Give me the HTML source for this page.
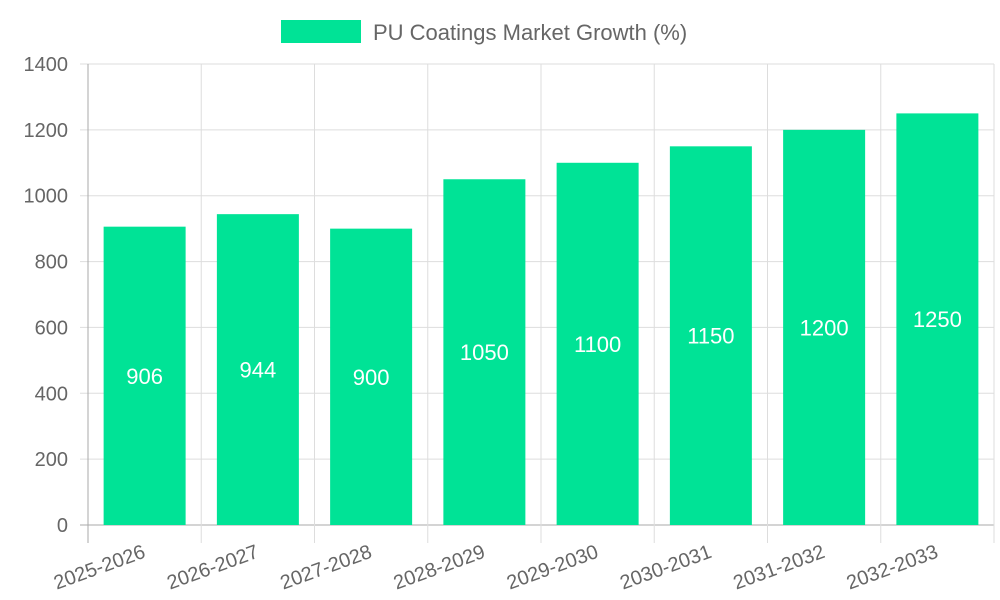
<!DOCTYPE html>
<html><head><meta charset="utf-8"><style>
html,body{margin:0;padding:0;background:#fff;}
svg{display:block;font-family:"Liberation Sans",sans-serif;}
</style></head><body>
<svg id="chart" width="1000" height="600">
<g>
<rect x="281" y="20" width="80" height="23" fill="#00e396"></rect>
<text x="373" y="40" font-size="22" fill="#666">PU Coatings Market Growth (%)</text>
</g>
<g id="grid"></g>
<g id="bars"></g>
<g id="axes"></g>
</svg>
<script>
const categories=["2025-2026","2026-2027","2027-2028","2028-2029","2029-2030","2030-2031","2031-2032","2032-2033"];
const values=[906,944,900,1050,1100,1150,1200,1250];
const yTicks=[0,200,400,600,800,1000,1200,1400];
const NS="http://www.w3.org/2000/svg";
const L=88,R=994,T=64,B=525,yMax=1400;
const n=categories.length,cw=(R-L)/n,bw=82;
const y=v=>B-(v/yMax)*(B-T);
const xc=i=>L+cw*(i+0.5);
function mk(tag,attrs,parent,txt){const e=document.createElementNS(NS,tag);for(const k in attrs)e.setAttribute(k,attrs[k]);if(txt!==undefined)e.textContent=txt;parent.appendChild(e);return e;}
const grid=document.getElementById('grid'),bars=document.getElementById('bars'),axes=document.getElementById('axes');
yTicks.forEach(t=>{
 const l=mk('line',{x1:L-8,x2:R,y1:y(t),y2:y(t),stroke:t===0?'#aaa':'#ddd','stroke-width':1},grid);
 
 
 const tx=mk('text',{x:L-20,y:y(t)+7,'text-anchor':'end','font-size':20,fill:'#666'},axes,String(t));
 
 
});
for(let i=0;i<=n;i++){
 const x=L+cw*i;
 const l=mk('line',{x1:x,x2:x,y1:T,y2:B+18,stroke:i===0?'#aaa':'#ddd','stroke-width':1},grid);
 
 
}
categories.forEach((c,i)=>{
 const v=values[i];
 const r=mk('rect',{x:xc(i)-bw/2,y:y(v),width:bw,height:B-y(v),fill:'#00e396'},bars);
 
 
 const lb=mk('text',{x:xc(i),y:(y(v)+B)/2+8,'text-anchor':'middle','font-size':22,fill:'#fff'},bars,String(v));
 
 
 const tx=mk('text',{x:xc(i)+2,y:B+32,'text-anchor':'end','font-size':20,fill:'#666',transform:'rotate(-20 '+(xc(i)+2)+' '+(B+32)+')'},axes,c);
 
 
});
</script>
</body></html>
